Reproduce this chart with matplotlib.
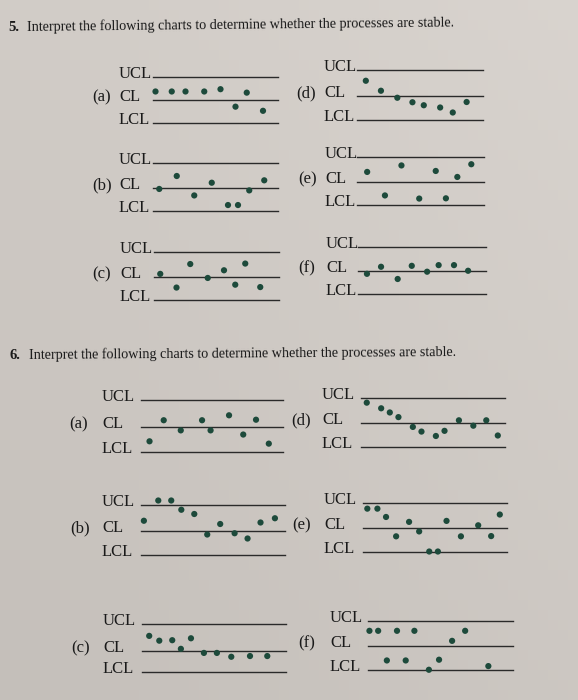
import numpy as np
import matplotlib.pyplot as plt

# dot positions: x as fraction of line length, value in units of (UCL - CL)
a5_x = [.02, .15, .26, .41, .54, .66, .75, .88]
a5_v = [.37, .37, .37, .37, .47, -.29, .32, -.47]
b5_x = [.05, .19, .33, .47, .60, .68, .77, .89]
b5_v = [-.04, .50, -.31, .22, -.71, -.71, -.10, .32]
c5_x = [.05, .18, .29, .43, .56, .65, .73, .85]
c5_v = [.13, -.44, .54, -.04, .28, -.32, .56, -.42]
d5_x = [.07, .19, .32, .44, .53, .66, .76, .87]
d5_v = [.61, .21, -.07, -.25, -.37, -.46, -.66, -.24]
e5_x = [.08, .22, .35, .49, .62, .70, .79, .90]
e5_v = [.42, -.56, .69, -.69, .46, -.68, .21, .74]
f5_x = [.07, .18, .31, .42, .54, .63, .75, .86]
f5_v = [-.12, .18, -.34, .22, -.03, .25, .25, .01]

a6_x = [.06, .16, .28, .43, .49, .62, .72, .81, .90]
a6_v = [-.55, .26, -.13, .26, -.13, .45, -.29, .28, -.64]
b6_x = [.02, .12, .21, .28, .37, .46, .55, .65, .74, .83, .93]
b6_v = [.41, 1.22, 1.22, .85, .68, -.14, .28, -.09, -.30, .34, .51]
c6_x = [.05, .12, .21, .27, .34, .43, .52, .62, .75, .87]
c6_v = [.63, .43, .45, .09, .53, -.08, -.08, -.24, -.21, -.21]
d6_x = [.04, .14, .20, .26, .36, .42, .52, .58, .68, .78, .87, .95]
d6_v = [.83, .60, .43, .24, -.16, -.35, -.53, -.32, .11, -.11, .11, -.51]
e6_x = [.03, .10, .16, .23, .32, .39, .46, .52, .58, .68, .80, .89, .95]
e6_v = [.79, .79, .45, -.34, .25, -.14, -.96, -.96, .29, -.34, .11, -.33, .55]
f6_x = [.01, .07, .20, .32, .58, .67, .13, .26, .42, .49, .83]
f6_v = [.62, .62, .62, .62, .21, .62, -.59, -.59, -.97, -.56, -.82]

title5 = "Interpret the following charts to determine whether the processes are stable."
title6 = "Interpret the following charts to determine whether the processes are stable."

# layout: (tag, tag_x, label_x, line_x0, line_x1, y_ucl, y_cl, y_lcl, xs, vs)
charts = [
    ("(a)", 92, 119, 153, 278, 77, 100, 123, a5_x, a5_v),
    ("(b)", 92, 119, 153, 278, 163, 188, 211, b5_x, b5_v),
    ("(c)", 92, 120, 154, 279, 252, 277, 300, c5_x, c5_v),
    ("(d)", 296, 324, 357, 483, 70, 96, 120, d5_x, d5_v),
    ("(e)", 298, 325, 357, 484, 157, 182, 205, e5_x, e5_v),
    ("(f)", 298, 326, 358, 486, 247, 271, 294, f5_x, f5_v),
    ("(a)", 69, 102, 141, 283, 400, 427, 452, a6_x, a6_v),
    ("(b)", 70, 102, 141, 285, 505, 531, 555, b6_x, b6_v),
    ("(c)", 71, 103, 142, 286, 624, 651, 672, c6_x, c6_v),
    ("(d)", 291, 322, 361, 505, 398, 423, 447, d6_x, d6_v),
    ("(e)", 292, 324, 363, 507, 503, 528, 552, e6_x, e6_v),
    ("(f)", 298, 330, 368, 513, 621, 646, 670, f6_x, f6_v),
]

plt.rcParams["font.family"] = ["Liberation Serif", "DejaVu Serif"]
fig = plt.figure(figsize=(5.78, 7.0), dpi=100)
ax = fig.add_axes([0, 0, 1, 1])
ax.set_xlim(0, 578)
ax.set_ylim(700, 0)
ax.axis("off")

# paper background
gy, gx = np.mgrid[0:1:70j, 0:1:58j]
shade = 0.81 - 0.05 * gy + 0.03 * gx
bg = np.dstack([shade + 0.01, shade - 0.01, shade - 0.03])
ax.imshow(np.clip(bg, 0, 1), extent=(0, 578, 700, 0), aspect="auto", zorder=0)

ink = "#1a1a1a"
dot = "#1d4a3b"

ax.text(8, 31, "5.", fontsize=10.5, weight="bold", color=ink)
ax.text(27, 31, title5, fontsize=10.2, color=ink, rotation=0.6, rotation_mode="anchor")
ax.text(10, 359, "6.", fontsize=10.5, weight="bold", color=ink)
ax.text(29, 359, title6, fontsize=10.2, color=ink, rotation=0.4, rotation_mode="anchor")

for tag, tx, lx, x0, x1, yu, yc, yl, xs, vs in charts:
    for lab, y in (("UCL", yu), ("CL", yc), ("LCL", yl)):
        ax.text(lx, y + 1, lab, fontsize=12, color=ink, va="baseline")
        ax.plot([x0, x1], [y, y], color="#2a2a2a", lw=1.0, zorder=2)
    ax.text(tx, yc + 1, tag, fontsize=12, color=ink, va="baseline")
    span = (yc - yu + yl - yc) / 2
    px = x0 + np.array(xs) * (x1 - x0)
    py = yc - np.array(vs) * span
    ax.scatter(px, py, s=20, color=dot, zorder=3, edgecolors="none")

fig.savefig("out.png", dpi=100)
plt.close(fig)
